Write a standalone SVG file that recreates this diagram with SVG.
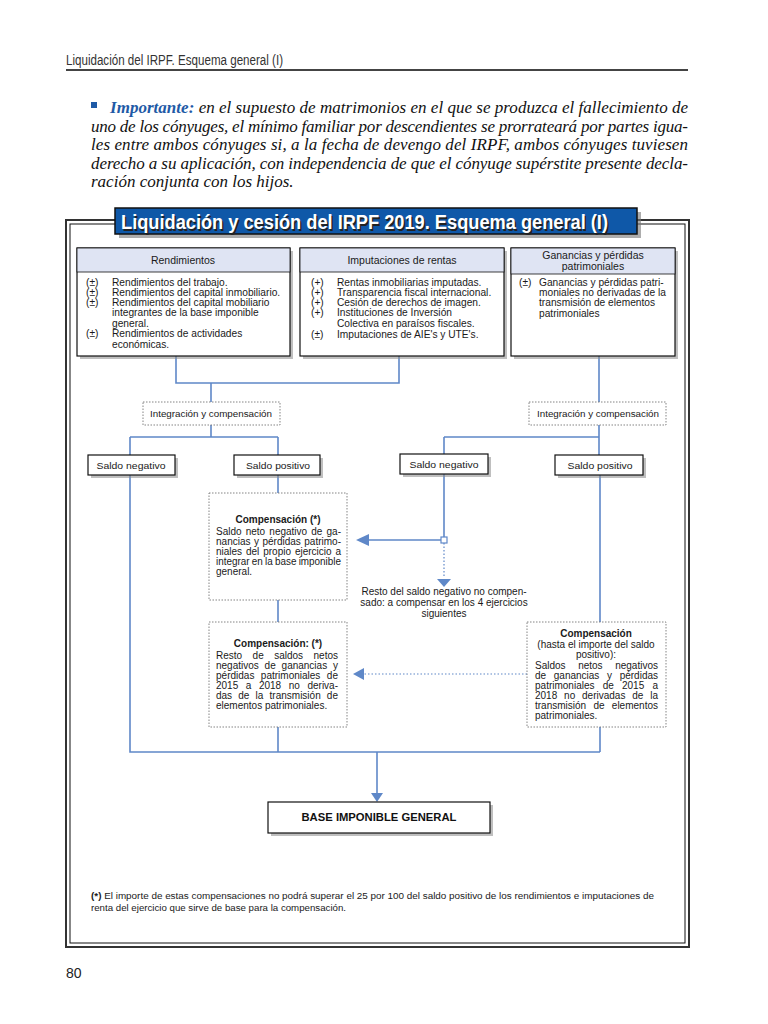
<svg xmlns="http://www.w3.org/2000/svg" width="768" height="1024" viewBox="0 0 768 1024">
<style>
.sans{font-family:"Liberation Sans",Arial,sans-serif;fill:#1a1a1a}
.narrow{font-family:"Liberation Sans Narrow","Liberation Sans",Arial,sans-serif}
.hdr{font-size:10.5px}
.it{font-size:10.2px}
.small{font-size:9.6px}
.bx{font-size:10px}
.para{font-family:"Liberation Serif","Times New Roman",serif;font-style:italic;font-size:17px;fill:#111}
.box{fill:#fff;stroke:#111;stroke-width:1.2}
.shadow{fill:#8a8a8a;opacity:0.55}
.band{fill:#dfe4f3;stroke:#111;stroke-width:0.8}
.dotbox{fill:#fff;stroke:#777;stroke-width:0.9;stroke-dasharray:1.5 1.5}
.con{fill:none;stroke:#5f88c8;stroke-width:1.6}
.dcon{fill:none;stroke:#5f88c8;stroke-width:1.2;stroke-dasharray:1.5 2}
.ah{fill:#5f88c8}
</style>
<rect width="768" height="1024" fill="#fff"/>

<g id="page-header">
<text class="sans narrow" x="66" y="65" font-size="14" textLength="217" lengthAdjust="spacingAndGlyphs" style="fill:#333">Liquidación del IRPF. Esquema general (I)</text>
<line x1="66" y1="70" x2="688" y2="70" stroke="#444" stroke-width="2"/>
</g>

<g id="note">
<rect x="91" y="102" width="6" height="6" fill="#1f5aa6"/>
<text class="para" x="110" y="113" textLength="578" lengthAdjust="spacing"><tspan style="fill:#1f5aa6;font-weight:bold">Importante:</tspan> en el supuesto de matrimonios en el que se produzca el fallecimiento de</text>
<text class="para" x="91" y="131.5" textLength="597" lengthAdjust="spacing">uno de los cónyuges, el mínimo familiar por descendientes se prorrateará por partes igua-</text>
<text class="para" x="91" y="150" textLength="597" lengthAdjust="spacing">les entre ambos cónyuges si, a la fecha de devengo del IRPF, ambos cónyuges tuviesen</text>
<text class="para" x="91" y="168.5" textLength="597" lengthAdjust="spacing">derecho a su aplicación, con independencia de que el cónyuge supérstite presente decla-</text>
<text class="para" x="91" y="187">ración conjunta con los hijos.</text>
</g>

<g id="frame">
<rect x="66" y="220" width="623" height="727" fill="none" stroke="#333" stroke-width="2"/>
<rect x="70" y="224" width="615" height="719" fill="none" stroke="#111" stroke-width="1"/>
</g>

<g id="title">
<rect x="119" y="212" width="522" height="26" fill="#777" opacity="0.6"/>
<rect x="115" y="208" width="522" height="26" fill="#0f58a8" stroke="#111" stroke-width="1.5"/>
<text class="narrow" x="121" y="229" font-weight="bold" font-size="20" fill="#222" textLength="487" lengthAdjust="spacingAndGlyphs" transform="translate(1.5,1.5)">Liquidación y cesión del IRPF 2019. Esquema general (I)</text>
<text class="narrow" x="121" y="229" font-weight="bold" font-size="20" fill="#fff" textLength="487" lengthAdjust="spacingAndGlyphs">Liquidación y cesión del IRPF 2019. Esquema general (I)</text>
</g>

<g id="connectors">
<path class="con" d="M176 356V383H399V356M211 383V402M211 425V437M130 437H278M130 437V455M278 437V455"/>
<path class="con" d="M599 356V402M599 425V455M444 437H599M444 437V454"/>
<path class="con" d="M130 475V752H600M600 475V622M600 727V752M278 475V493M278 600V622M278 727V752"/>
<path class="con" d="M377 752V794"/>
<polygon class="ah" points="371,793 383,793 377,802"/>
<path class="con" d="M444 474V537M441 540H368"/>
<polygon class="ah" points="369,534 369,546 356,540"/>
<path class="dcon" d="M444 543V578"/>
<polygon class="ah" points="437,579 451,579 444,587"/>
<path class="dcon" d="M527 674H364"/>
<polygon class="ah" points="364,668 364,680 353,674"/>
<rect x="441" y="537" width="6" height="6" fill="#fff" stroke="#5f88c8" stroke-width="1.2"/>
</g>

<g id="rendimientos">
<rect class="shadow" x="80" y="251" width="213" height="108"/>
<rect class="box" x="77" y="248" width="213" height="108"/>
<rect class="band" x="77" y="248" width="213" height="24"/>
<text class="sans hdr" x="183" y="264" text-anchor="middle">Rendimientos</text>
<g class="sans it">
<text x="86" y="286">(±)</text><text x="112" y="286">Rendimientos del trabajo.</text>
<text x="86" y="296">(±)</text><text x="112" y="296">Rendimientos del capital inmobiliario.</text>
<text x="86" y="306">(±)</text><text x="112" y="306">Rendimientos del capital mobiliario</text>
<text x="112" y="316">integrantes de la base imponible</text>
<text x="112" y="327">general.</text>
<text x="86" y="337">(±)</text><text x="112" y="337">Rendimientos de actividades</text>
<text x="112" y="348">económicas.</text>
</g>
</g>

<g id="imputaciones">
<rect class="shadow" x="303" y="251" width="204" height="108"/>
<rect class="box" x="300" y="248" width="204" height="108"/>
<rect class="band" x="300" y="248" width="204" height="24"/>
<text class="sans hdr" x="402" y="264" text-anchor="middle">Imputaciones de rentas</text>
<g class="sans it">
<text x="311" y="286">(+)</text><text x="337" y="286">Rentas inmobiliarias imputadas.</text>
<text x="311" y="296">(+)</text><text x="337" y="296">Transparencia fiscal internacional.</text>
<text x="311" y="306">(+)</text><text x="337" y="306">Cesión de derechos de imagen.</text>
<text x="311" y="316">(+)</text><text x="337" y="316">Instituciones de Inversión</text>
<text x="337" y="327">Colectiva en paraísos fiscales.</text>
<text x="311" y="338">(±)</text><text x="337" y="338">Imputaciones de AIE's y UTE's.</text>
</g>
</g>

<g id="ganancias">
<rect class="shadow" x="514" y="251" width="164" height="108"/>
<rect class="box" x="511" y="248" width="164" height="108"/>
<rect class="band" x="511" y="248" width="164" height="26"/>
<text class="sans hdr" x="593" y="259" text-anchor="middle">Ganancias y pérdidas</text>
<text class="sans hdr" x="593" y="270" text-anchor="middle">patrimoniales</text>
<g class="sans it">
<text x="519" y="286">(±)</text><text x="539" y="286">Ganancias y pérdidas patri-</text>
<text x="539" y="296">moniales no derivadas de la</text>
<text x="539" y="306">transmisión de elementos</text>
<text x="539" y="317">patrimoniales</text>
</g>
</g>

<g id="integracion-1">
<rect class="dotbox" x="143" y="402" width="137" height="23"/>
<text class="sans narrow small" x="211" y="417" text-anchor="middle" textLength="122" lengthAdjust="spacingAndGlyphs">Integración y compensación</text>
</g>
<g id="integracion-2">
<rect class="dotbox" x="529" y="402" width="137" height="23"/>
<text class="sans narrow small" x="598" y="417" text-anchor="middle" textLength="122" lengthAdjust="spacingAndGlyphs">Integración y compensación</text>
</g>

<g id="saldo-neg-1">
<rect class="shadow" x="91" y="458" width="87" height="20"/>
<rect class="box" x="88" y="455" width="87" height="20"/>
<text class="sans narrow small" x="131" y="469" text-anchor="middle" textLength="69" lengthAdjust="spacingAndGlyphs">Saldo negativo</text>
</g>
<g id="saldo-pos-1">
<rect class="shadow" x="237" y="458" width="86" height="20"/>
<rect class="box" x="234" y="455" width="86" height="20"/>
<text class="sans narrow small" x="278" y="469" text-anchor="middle" textLength="64" lengthAdjust="spacingAndGlyphs">Saldo positivo</text>
</g>
<g id="saldo-neg-2">
<rect class="shadow" x="403" y="457" width="88" height="20"/>
<rect class="box" x="400" y="454" width="88" height="20"/>
<text class="sans narrow small" x="444" y="468" text-anchor="middle" textLength="69" lengthAdjust="spacingAndGlyphs">Saldo negativo</text>
</g>
<g id="saldo-pos-2">
<rect class="shadow" x="558" y="458" width="88" height="20"/>
<rect class="box" x="555" y="455" width="88" height="20"/>
<text class="sans narrow small" x="600" y="469" text-anchor="middle" textLength="65" lengthAdjust="spacingAndGlyphs">Saldo positivo</text>
</g>

<g id="compensacion-1">
<rect class="dotbox" x="209" y="493" width="138" height="107"/>
<text class="sans bx" x="278" y="523" text-anchor="middle" font-weight="bold">Compensación (*)</text>
<g class="sans bx">
<text x="216" y="535" word-spacing="1.4" textLength="125" lengthAdjust="spacingAndGlyphs">Saldo neto negativo de ga-</text>
<text x="216" y="545" word-spacing="0.7" textLength="125" lengthAdjust="spacingAndGlyphs">nancias y pérdidas patrimo-</text>
<text x="216" y="555" word-spacing="1.1" textLength="125" lengthAdjust="spacingAndGlyphs">niales del propio ejercicio a</text>
<text x="216" y="565" word-spacing="-0.5" textLength="125" lengthAdjust="spacingAndGlyphs">integrar en la base imponible</text>
<text x="216" y="575">general.</text>
</g>
</g>

<g id="resto-label">
<g class="sans bx" text-anchor="middle">
<text x="444" y="595">Resto del saldo negativo no compen-</text>
<text x="444" y="606">sado: a compensar en los 4 ejercicios</text>
<text x="444" y="617">siguientes</text>
</g>
</g>

<g id="compensacion-2">
<rect class="dotbox" x="209" y="622" width="138" height="105"/>
<text class="sans bx" x="278" y="647" text-anchor="middle" font-weight="bold">Compensación: (*)</text>
<g class="sans bx">
<text x="216" y="659" word-spacing="7.7" textLength="122" lengthAdjust="spacingAndGlyphs">Resto de saldos netos</text>
<text x="216" y="669" word-spacing="3.1" textLength="122" lengthAdjust="spacingAndGlyphs">negativos de ganancias y</text>
<text x="216" y="679" word-spacing="3.7" textLength="122" lengthAdjust="spacingAndGlyphs">pérdidas patrimoniales de</text>
<text x="216" y="689" word-spacing="4.8" textLength="122" lengthAdjust="spacingAndGlyphs">2015 a 2018 no deriva-</text>
<text x="216" y="699" word-spacing="3.4" textLength="122" lengthAdjust="spacingAndGlyphs">das de la transmisión de</text>
<text x="216" y="709">elementos patrimoniales.</text>
</g>
</g>

<g id="compensacion-3">
<rect class="dotbox" x="527" y="622" width="139" height="105"/>
<g class="sans bx" text-anchor="middle">
<text x="596" y="637" font-weight="bold">Compensación</text>
<text x="596" y="648">(hasta el importe del saldo</text>
<text x="596" y="658">positivo):</text>
</g>
<g class="sans bx">
<text x="535" y="669" word-spacing="9.8" textLength="123" lengthAdjust="spacingAndGlyphs">Saldos netos negativos</text>
<text x="535" y="679" word-spacing="4.9" textLength="123" lengthAdjust="spacingAndGlyphs">de ganancias y pérdidas</text>
<text x="535" y="689" word-spacing="5.4" textLength="123" lengthAdjust="spacingAndGlyphs">patrimoniales de 2015 a</text>
<text x="535" y="699" word-spacing="4.1" textLength="123" lengthAdjust="spacingAndGlyphs">2018 no derivadas de la</text>
<text x="535" y="709" word-spacing="4.5" textLength="123" lengthAdjust="spacingAndGlyphs">transmisión de elementos</text>
<text x="535" y="719">patrimoniales.</text>
</g>
</g>

<g id="base-imponible">
<rect class="shadow" x="271" y="805" width="222" height="31"/>
<rect class="box" x="268" y="802" width="222" height="31"/>
<text class="sans narrow" x="379" y="821" text-anchor="middle" font-weight="bold" font-size="11" textLength="155" lengthAdjust="spacingAndGlyphs" style="fill:#111">BASE IMPONIBLE GENERAL</text>
</g>

<g id="footnote">
<text class="sans narrow small" x="91" y="899" textLength="563" lengthAdjust="spacingAndGlyphs"><tspan font-weight="bold">(*)</tspan>  El importe de estas compensaciones no podrá superar el 25 por 100 del saldo positivo de los rendimientos e imputaciones de</text>
<text class="sans narrow small" x="91" y="911" textLength="255" lengthAdjust="spacingAndGlyphs">renta del ejercicio que sirve de base para la compensación.</text>
</g>

<g id="page-number">
<text class="sans" x="66" y="978" font-size="14" style="fill:#222">80</text>
</g>
</svg>
